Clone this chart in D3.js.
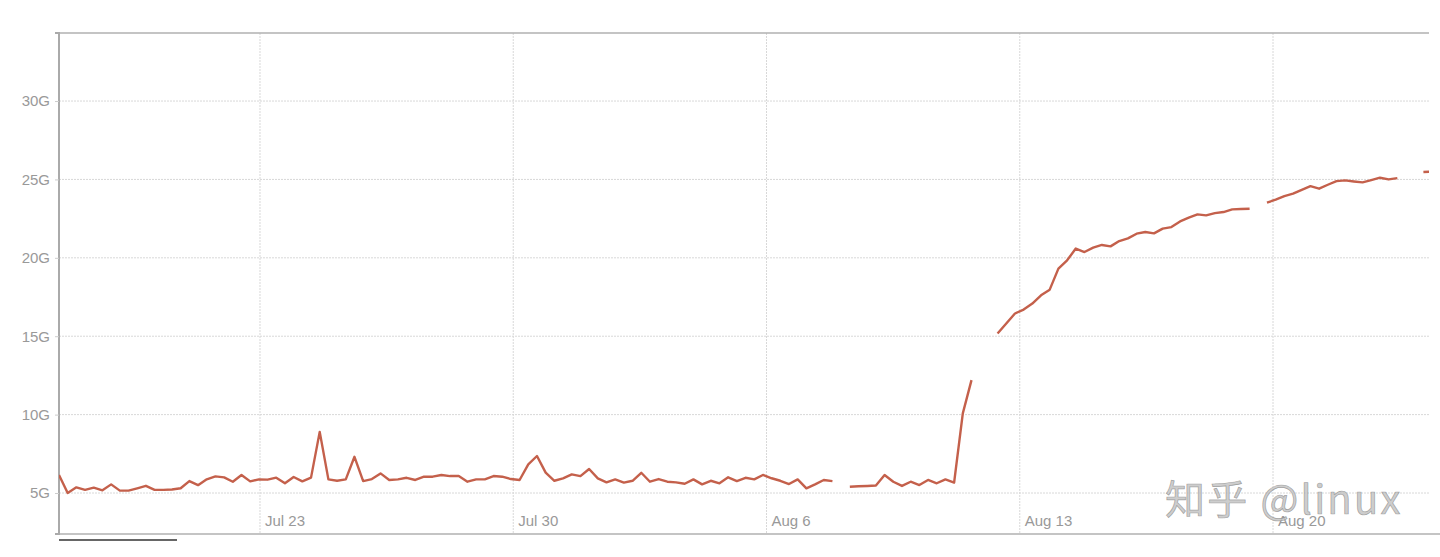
<!DOCTYPE html>
<html>
<head>
<meta charset="utf-8">
<script src="https://cdn.jsdelivr.net/npm/d3@7"></script>
<style>
  html, body { margin: 0; padding: 0; background: #fff; }
  svg { display: block; }
</style>
</head>
<body>
<svg id="chart" width="1440" height="557"></svg>
<script>
// ---------- data ----------
// sample start time and sampling step (series is sampled at a fixed interval)
const startTime = new Date(2019, 6, 17, 10, 40);
const stepMinutes = 345.9;
const domainEnd = new Date(2019, 7, 24, 7, 29);

// memory usage in G, null = no data
const usageG = [
  6.15, 5.0, 5.36, 5.2, 5.34, 5.17, 5.55, 5.15, 5.15, 5.3,
  5.46, 5.2, 5.2, 5.22, 5.3, 5.76, 5.5, 5.87, 6.06, 6.0,
  5.72, 6.15, 5.74, 5.87, 5.85, 5.98, 5.62, 6.02, 5.74, 5.98,
  8.9, 5.87, 5.78, 5.87, 7.31, 5.76, 5.89, 6.25, 5.83, 5.87,
  5.97, 5.83, 6.04, 6.04, 6.15, 6.08, 6.08, 5.72, 5.87, 5.87,
  6.08, 6.04, 5.89, 5.83, 6.83, 7.36, 6.3, 5.78, 5.93, 6.19,
  6.08, 6.53, 5.93, 5.68, 5.87, 5.66, 5.78, 6.29, 5.72, 5.89,
  5.72, 5.68, 5.59, 5.87, 5.55, 5.78, 5.62, 6.0, 5.76, 5.97,
  5.87, 6.15, 5.94, 5.78, 5.57, 5.87, 5.3, 5.55, 5.83, 5.76,
  null, 5.40, 5.43, 5.45, 5.48, 6.15, 5.72, 5.45, 5.72, 5.51,
  5.83, 5.62, 5.87, 5.66, 10.08, 12.2, null, null, 15.17, 15.81,
  16.45, 16.70, 17.08, 17.61, 17.97, 19.31, 19.84, 20.59, 20.37, 20.65,
  20.82, 20.73, 21.07, 21.24, 21.54, 21.65, 21.56, 21.86, 21.96, 22.32,
  22.56, 22.77, 22.71, 22.85, 22.92, 23.09, 23.11, 23.13, null, 23.52,
  23.71, 23.94, 24.09, 24.34, 24.57, 24.41, 24.66, 24.89, 24.94, 24.87,
  24.81, 24.96, 25.11, 25.0, 25.08, null, null, 25.47, 25.5
];

const yTicks = [5, 10, 15, 20, 25, 30];
const yTickLabels = ["5G", "10G", "15G", "20G", "25G", "30G"];
const xTickDates = [new Date(2019, 6, 23), new Date(2019, 6, 30), new Date(2019, 7, 6), new Date(2019, 7, 13), new Date(2019, 7, 20)];
const xTickLabels = ["Jul 23", "Jul 30", "Aug 6", "Aug 13", "Aug 20"];
const yDomain = [2.385, 34.34];
const watermark = "知乎 @linux";

// ---------- layout ----------
const plotLeft = 59, plotRight = 1429, plotTop = 33, plotBottom = 534;
const svg = d3.select("#chart");
const font = "'Liberation Sans', Arial, Helvetica, sans-serif";

const x = d3.scaleTime().domain([startTime, domainEnd]).range([plotLeft, plotRight]);
const y = d3.scaleLinear().domain(yDomain).range([plotBottom, plotTop]);

const points = usageG.map((v, i) => ({ t: new Date(startTime.getTime() + i * stepMinutes * 60000), v }));

// gridlines
const grid = svg.append("g");
grid.selectAll("line.h").data(yTicks).join("line").attr("class", "h")
  .attr("x1", plotLeft).attr("x2", plotRight)
  .attr("y1", d => y(d)).attr("y2", d => y(d))
  .attr("stroke", "#d8d8d8").attr("stroke-width", 1).attr("stroke-dasharray", "2,1");
grid.selectAll("line.v").data(xTickDates).join("line").attr("class", "v")
  .attr("x1", d => x(d)).attr("x2", d => x(d))
  .attr("y1", plotTop).attr("y2", plotBottom)
  .attr("stroke", "#d8d8d8").attr("stroke-width", 1).attr("stroke-dasharray", "2,1");

// top border
svg.append("line").attr("x1", plotLeft - 4).attr("x2", plotRight).attr("y1", plotTop).attr("y2", plotTop)
  .attr("stroke", "#b0b0b0").attr("stroke-width", 1.5);
// bottom axis line
svg.append("line").attr("x1", plotLeft).attr("x2", 1440).attr("y1", plotBottom).attr("y2", plotBottom)
  .attr("stroke", "#b0b0b0").attr("stroke-width", 1.5);

// left axis
const yAxis = d3.axisLeft(y).tickValues(yTicks).tickSize(4).tickPadding(5)
  .tickFormat((d, i) => yTickLabels[i]);
const ya = svg.append("g").attr("transform", `translate(${plotLeft},0)`).call(yAxis);
ya.select(".domain").attr("stroke", "#aaa").attr("stroke-width", 2).attr("d", `M-4,${plotTop}H0V${plotBottom}H-4`);
ya.selectAll(".tick line").attr("stroke", "#ccc");
ya.selectAll(".tick text").attr("fill", "#999").style("font-size", "15px").style("font-family", font);

// x labels
const xa = svg.append("g");
xa.selectAll("text").data(xTickDates).join("text")
  .attr("x", d => x(d) + 5).attr("y", 526)
  .attr("fill", "#999").style("font-size", "15px").style("font-family", font)
  .text((d, i) => xTickLabels[i]);

// line
svg.append("defs").append("clipPath").attr("id", "clip")
  .append("rect").attr("x", plotLeft).attr("y", plotTop).attr("width", plotRight - plotLeft).attr("height", plotBottom - plotTop);
const line = d3.line().defined(d => d.v != null).x(d => x(d.t)).y(d => y(d.v));
svg.append("path").datum(points).attr("clip-path", "url(#clip)")
  .attr("fill", "none").attr("stroke", "#c4604b").attr("stroke-width", 2.4)
  .attr("stroke-linejoin", "round").attr("d", line);

// scrollbar-like dark mark below axis
svg.append("line").attr("x1", plotLeft).attr("x2", 177).attr("y1", 540).attr("y2", 540)
  .attr("stroke", "#333").attr("stroke-width", 1.5);

// watermark
svg.append("text").attr("x", 1165).attr("y", 514)
  .attr("fill", "#c4c4c4").attr("fill-opacity", 0.85)
  .attr("stroke", "#777").attr("stroke-width", 0.7).attr("stroke-opacity", 0.6)
  .style("font-size", "40px").style("letter-spacing", "2.2px")
  .style("font-family", "'Noto Sans CJK SC', 'Noto Sans', sans-serif")
  .text(watermark);
</script>
</body>
</html>
